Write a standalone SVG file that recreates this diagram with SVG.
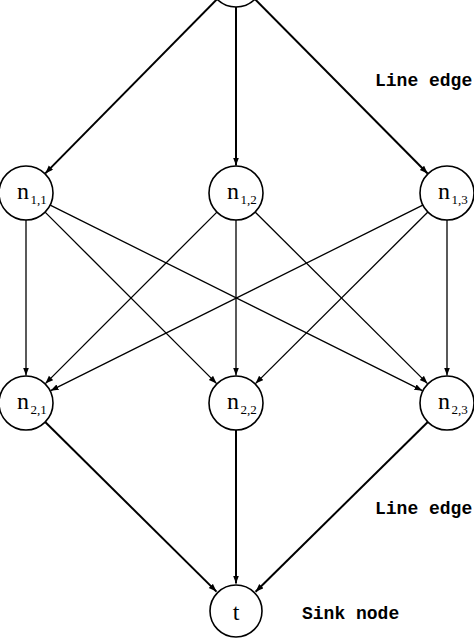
<svg xmlns="http://www.w3.org/2000/svg" width="474" height="640" viewBox="0 0 474 640">
<defs>
<style>
.node circle{fill:#fff;stroke:#000;stroke-width:1.6}
.lbl{font-family:"Liberation Serif","Times New Roman",serif;font-size:24px;fill:#000}
.sub{font-size:13px}
.thick{stroke:#000;stroke-width:2;fill:none;marker-end:url(#ah)}
.thin{stroke:#000;stroke-width:1.3;fill:none;marker-end:url(#ah)}
.note{font-family:"Liberation Mono","Courier New",monospace;font-weight:bold;font-size:18px;fill:#000}
</style>
<marker id="ah" markerUnits="userSpaceOnUse" markerWidth="9" markerHeight="7" refX="8" refY="3" orient="auto">
<path d="M0,0 L8,3 L0,6 z" fill="#000"/>
</marker>
</defs>
<rect width="474" height="640" fill="#fff"/>
<g id="connectors">
<line class="thick" x1="217" y1="-0.8" x2="45.3" y2="173.4"/>
<line class="thick" x1="236" y1="7" x2="236" y2="165.5"/>
<line class="thick" x1="255" y1="-0.8" x2="427.6" y2="173.5"/>
<line class="thin" x1="26" y1="220" x2="26" y2="375.5"/>
<line class="thin" x1="45.1" y1="212.1" x2="216.6" y2="383.6"/>
<line class="thin" x1="50.2" y1="205.1" x2="422.4" y2="390.7"/>
<line class="thin" x1="216.9" y1="212.1" x2="45.4" y2="383.6"/>
<line class="thin" x1="236" y1="220" x2="236" y2="375.5"/>
<line class="thin" x1="255.1" y1="212" x2="427.5" y2="383.6"/>
<line class="thin" x1="422.8" y1="205.1" x2="50.6" y2="390.7"/>
<line class="thin" x1="427.9" y1="212" x2="255.5" y2="383.6"/>
<line class="thin" x1="447" y1="220" x2="447" y2="375.5"/>
<line class="thick" x1="45.2" y1="422" x2="216.5" y2="591.6"/>
<line class="thick" x1="236" y1="430" x2="236" y2="583.5"/>
<line class="thick" x1="427.8" y1="422" x2="255.6" y2="591.7"/>
</g>
<g id="s" class="node"><circle cx="236" cy="-20" r="27"/></g>
<g id="n11" class="node"><circle cx="26" cy="193" r="27"/><text class="lbl" x="17" y="199">n<tspan class="sub" dx="1.5" dy="5">1,1</tspan></text></g>
<g id="n12" class="node"><circle cx="236" cy="193" r="27"/><text class="lbl" x="227" y="199">n<tspan class="sub" dx="1.5" dy="5">1,2</tspan></text></g>
<g id="n13" class="node"><circle cx="447" cy="193" r="27"/><text class="lbl" x="438" y="199">n<tspan class="sub" dx="1.5" dy="5">1,3</tspan></text></g>
<g id="n21" class="node"><circle cx="26" cy="403" r="27"/><text class="lbl" x="17" y="409">n<tspan class="sub" dx="1.5" dy="5">2,1</tspan></text></g>
<g id="n22" class="node"><circle cx="236" cy="403" r="27"/><text class="lbl" x="227" y="409">n<tspan class="sub" dx="1.5" dy="5">2,2</tspan></text></g>
<g id="n23" class="node"><circle cx="447" cy="403" r="27"/><text class="lbl" x="438" y="409">n<tspan class="sub" dx="1.5" dy="5">2,3</tspan></text></g>
<g id="t" class="node"><circle cx="236" cy="611" r="26"/><text class="lbl" x="236" y="620" text-anchor="middle">t</text></g>
<g id="labels">
<text class="note" x="375" y="86">Line edge</text>
<text class="note" x="375" y="514">Line edge</text>
<text class="note" x="302" y="619">Sink node</text>
</g>
</svg>
